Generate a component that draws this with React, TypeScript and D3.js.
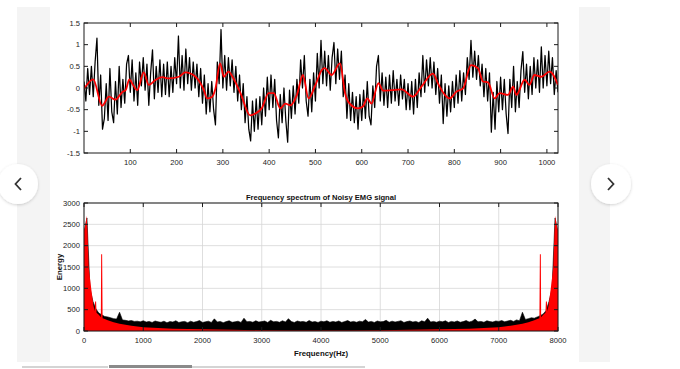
import * as d3 from "d3";

// noisy EMG signal, read every 4th sample
const emgIdx = d3.range(0, 1025, 4);
const emgRaw = [
  0.15, -0.3, 0.45, -0.15, 0.5, -0.2, 0.6, 1.15, -0.4, 0.3, -0.95, -0.7, 0.1, -0.75, 0.45, -0.55,
  -0.8, 0.15, -0.6, 0.5, -0.45, 0.2, -0.35, 0.55, 0.75, -0.1, 0.65, -0.3, 0.35, -0.4, 0.6, 0.05,
  0.7, -0.05, 0.55, -0.4, 0.35, 0.88, -0.25, 0.5, -0.1, 0.65, -0.2, 0.55, -0.15, 0.6, -0.2, 0.5,
  -0.1, 0.7, 0.1, 1.2, 0.0, 0.75, -0.05, 0.9, 0.1, 0.7, -0.05, 0.6, 0.0, 0.55, -0.2, 0.45,
  -0.35, 0.3, -0.6, 0.1, -0.55, 0.15, -0.5, -0.85, 0.6, 0.1, 1.35, 0.0, 0.75, -0.05, 0.7, 0.05,
  0.65, -0.1, 0.5, -0.3, 0.3, -0.5, 0.1, -0.8, -0.2, -0.95, -1.22, -0.3, -1.0, -0.25, -0.95, -0.2,
  -0.85, 0.0, -0.65, 0.25, -0.5, 0.3, -0.45, 0.2, -0.75, -1.15, -0.15, -0.8, 0.0, -0.75, -1.25, -0.05,
  -0.7, 0.05, -0.6, 0.2, -0.35, 0.65, 0.0, 0.75, -0.3, -0.65, 0.2, -0.55, 0.35, -0.3, 0.8, 0.0,
  1.1, 0.1, 0.85, 0.05, 0.75, -0.05, 0.7, 1.05, 0.1, 0.9, 0.2, 0.85, -0.2, 0.3, -0.7, 0.1,
  -0.75, -0.1, -0.8, -0.2, -0.95, -0.15, -0.75, -0.05, -0.7, 0.15, -0.65, -0.85, 0.05, -0.45, 0.5, 0.75,
  -0.3, 0.35, -0.4, 0.25, -0.45, 0.3, -0.35, 0.4, -0.3, 0.2, -0.4, 0.3, -0.25, 0.2, -0.5, 0.1,
  -0.5, 0.15, -0.6, 0.2, -0.45, 0.35, -0.2, 0.75, -0.1, 0.65, 0.05, 0.7, 0.0, 0.6, -0.15, 0.45,
  -0.35, 0.3, -0.82, 0.1, -0.65, 0.05, -0.55, 0.15, -0.45, 0.3, -0.35, 0.4, -0.3, 0.35, -0.15, 0.7,
  0.2, 1.1, 0.25, 0.85, 0.2, 0.75, 0.05, 0.55, -0.2, 0.45, -0.3, 0.35, -1.02, -0.1, -0.95, 0.15,
  -0.55, 0.25, -0.5, 0.2, -0.6, -1.05, 0.2, -0.45, 0.5, -0.55, 0.15, -0.45, 0.4, 0.84, -0.1, 0.55,
  -0.25, 0.5, -0.15, 0.7, 0.0, 0.65, -0.1, 0.95, 0.0, 0.75, 0.05, 0.85, 0.1, 0.7, -0.15, 0.4, -0.1,
];

// filtered (red) signal
const smoothIdx = [0, 20, 39, 54, 68, 83, 90, 98, 106, 115, 129, 140, 155, 169, 183, 205, 219, 241, 251, 259, 266, 277, 284, 294, 302, 312, 323, 338, 359, 370, 384, 399, 410, 424, 435, 446, 460, 473, 485, 500, 514, 520, 535, 553, 564, 571, 592, 603, 612, 621, 636, 646, 664, 686, 711, 729, 754, 765, 775, 790, 804, 819, 836, 851, 862, 873, 887, 898, 916, 927, 934, 952, 962, 973, 988, 1006, 1024];
const smoothVal = [-0.02, 0.2, -0.41, -0.2, -0.27, -0.09, -0.05, 0.2, 0.07, -0.05, 0.36, 0.07, 0.19, 0.25, 0.22, 0.26, 0.36, 0.26, 0.12, -0.05, -0.24, -0.2, -0.01, 0.57, 0.26, 0.38, 0.22, -0.12, -0.63, -0.59, -0.47, -0.12, -0.12, -0.47, -0.36, -0.4, -0.16, 0.3, -0.24, 0.07, 0.42, 0.46, 0.3, 0.57, -0.12, -0.32, -0.47, -0.42, -0.24, -0.36, 0.11, -0.06, -0.05, -0.03, -0.2, 0.03, 0.33, 0.1, -0.09, -0.24, -0.09, -0.01, 0.53, 0.46, 0.15, 0.13, -0.24, -0.12, -0.16, 0.03, -0.16, 0.19, 0.07, 0.3, 0.26, 0.38, 0.07];

// spectrum of noisy signal, 50 Hz bins
const specFreq = d3.range(0, 8001, 50);
const specNoisy = [
  2300, 2650, 1000, 700, 520, 420, 380, 340, 330, 310, 290, 280, 440, 260, 250, 235, 245, 225, 230, 215, 240,
  210, 225, 200, 235, 215, 205, 230, 195, 220, 210, 240, 200, 215, 225, 195, 230, 205, 220, 245, 200,
  215, 230, 200, 285, 210, 225, 195, 220, 240, 205, 215, 230, 200, 300, 215, 225, 205, 240, 210, 220,
  235, 200, 250, 215, 225, 205, 240, 210, 290, 220, 200, 235, 215, 225, 205, 245, 210, 220, 200, 230,
  215, 240, 205, 225, 210, 235, 200, 220, 245, 210, 225, 205, 230, 215, 270, 210, 225, 200, 235, 215,
  220, 250, 205, 230, 210, 225, 240, 200, 220, 235, 210, 225, 200, 240, 215, 300, 210, 225, 205, 230,
  215, 240, 200, 225, 210, 235, 205, 220, 245, 210, 230, 280, 215, 225, 205, 240, 220, 210, 235, 225,
  245, 215, 235, 250, 225, 260, 240, 440, 270, 290, 310, 300, 330, 360, 400, 480, 700, 1000, 2650, 2300,
];

// spectrum of filtered signal
const specFiltFreq = [0, 25, 45, 60, 80, 100, 130, 160, 180, 188, 204, 212, 250, 284, 290, 306, 314, 350, 400, 450, 500, 550, 600, 700, 800, 900, 1000, 1250, 1500, 2000, 2500, 3000, 3500, 4000, 4500, 5000, 5500, 6000, 6500, 6750, 7000, 7100, 7200, 7300, 7400, 7450, 7500, 7550, 7600, 7650, 7686, 7694, 7710, 7716, 7750, 7788, 7796, 7812, 7820, 7840, 7870, 7900, 7920, 7940, 7955, 7975, 8000];
const specFilt = [2350, 2500, 2700, 2300, 1500, 1250, 900, 600, 460, 690, 690, 430, 380, 320, 1800, 1800, 300, 280, 250, 230, 205, 185, 170, 145, 125, 105, 90, 70, 55, 40, 28, 18, 12, 10, 12, 18, 28, 40, 55, 70, 90, 105, 125, 145, 170, 185, 205, 230, 250, 280, 300, 1800, 1800, 320, 380, 430, 690, 690, 460, 600, 900, 1250, 1500, 2300, 2700, 2500, 2350];

const topYTicks = [1.5, 1, 0.5, 0, -0.5, -1, -1.5];
const topXTicks = [100, 200, 300, 400, 500, 600, 700, 800, 900, 1000];
const botYTicks = [0, 500, 1000, 1500, 2000, 2500, 3000];
const botXTicks = [0, 1000, 2000, 3000, 4000, 5000, 6000, 7000, 8000];

const FONT = "'Liberation Sans', Arial, sans-serif";
const TL = 4; // tick length

function Grid({ x, y, xTicks, yTicks }: any) {
  const [x0, x1] = x.range();
  const [y0, y1] = y.range();
  return (
    <g stroke="#d6d6d6" strokeWidth={0.8}>
      {xTicks.map((t: number) => (
        <line key={"gx" + t} x1={x(t)} x2={x(t)} y1={y0} y2={y1} />
      ))}
      {yTicks.map((t: number) => (
        <line key={"gy" + t} x1={x0} x2={x1} y1={y(t)} y2={y(t)} />
      ))}
    </g>
  );
}

function Frame({ x, y, xTicks, yTicks }: any) {
  const [x0, x1] = x.range();
  const [y0, y1] = y.range(); // y0 bottom, y1 top
  return (
    <g fontFamily={FONT} fontSize={7.6} fill="#222">
      <rect x={x0} y={y1} width={x1 - x0} height={y0 - y1} fill="none" stroke="#1a1a1a" strokeWidth={1} />
      {xTicks.map((t: number) => (
        <g key={"tx" + t}>
          <line x1={x(t)} x2={x(t)} y1={y0} y2={y0 - TL} stroke="#1a1a1a" />
          <line x1={x(t)} x2={x(t)} y1={y1} y2={y1 + TL} stroke="#1a1a1a" />
          <text x={x(t)} y={y0 + 12} textAnchor="middle">{t}</text>
        </g>
      ))}
      {yTicks.map((t: number) => (
        <g key={"ty" + t}>
          <line x1={x0} x2={x0 + TL} y1={y(t)} y2={y(t)} stroke="#1a1a1a" />
          <line x1={x1} x2={x1 - TL} y1={y(t)} y2={y(t)} stroke="#1a1a1a" />
          <text x={x0 - 4} y={y(t) + 2.7} textAnchor="end">{t}</text>
        </g>
      ))}
    </g>
  );
}

export default function App() {
  const xTop = d3.scaleLinear().domain([0, 1024]).range([84, 558]);
  const yTop = d3.scaleLinear().domain([-1.5, 1.5]).range([153, 23]);
  const xBot = d3.scaleLinear().domain([0, 8000]).range([84, 558]);
  const yBot = d3.scaleLinear().domain([0, 3000]).range([331, 203]);

  const rawLine = d3
    .line<number>()
    .x((_, i) => xTop(emgIdx[i]))
    .y((d) => yTop(d));
  const smoothLine = d3
    .line<number>()
    .x((_, i) => xTop(smoothIdx[i]))
    .y((d) => yTop(d))
    .curve(d3.curveMonotoneX);

  const noisyArea = d3
    .area<number>()
    .x((_, i) => xBot(specFreq[i]))
    .y0(yBot(0))
    .y1((d) => yBot(d));
  const filtArea = d3
    .area<number>()
    .x((_, i) => xBot(specFiltFreq[i]))
    .y0(yBot(0))
    .y1((d) => yBot(d));

  return (
    <svg width={680} height={369} style={{ position: "absolute", left: 0, top: 0 }}>
      <defs>
        <filter id="sh" x="-50%" y="-50%" width="200%" height="200%">
          <feDropShadow dx="0" dy="1" stdDeviation="1.5" floodColor="#000" floodOpacity="0.18" />
        </filter>
        <clipPath id="cpTop">
          <rect x={84} y={23} width={474} height={130} />
        </clipPath>
        <clipPath id="cpBot">
          <rect x={84} y={203} width={474} height={128} />
        </clipPath>
      </defs>
      <rect width={680} height={369} fill="#fff" />
      <rect x={17} y={7} width={593} height={355} fill="#f4f4f4" />
      <rect x={50} y={7} width={529} height={355} fill="#fff" />

      {/* top: noisy EMG signal + filtered */}
      <g clipPath="url(#cpTop)">
        <path d={rawLine(emgRaw) ?? ""} fill="none" stroke="#000" strokeWidth={1.25} strokeLinejoin="round" />
        <path d={smoothLine(smoothVal) ?? ""} fill="none" stroke="#f00" strokeWidth={1.8} />
      </g>
      <Frame x={xTop} y={yTop} xTicks={topXTicks} yTicks={topYTicks} />

      {/* bottom: spectrum */}
      <Grid x={xBot} y={yBot} xTicks={botXTicks} yTicks={botYTicks} />
      <g clipPath="url(#cpBot)">
        <path d={noisyArea(specNoisy) ?? ""} fill="#000" stroke="#000" strokeWidth={0.6} />
        <path d={filtArea(specFilt) ?? ""} fill="#f00" />
      </g>
      <Frame x={xBot} y={yBot} xTicks={botXTicks} yTicks={botYTicks} />
      <text x={321} y={200} textAnchor="middle" fontFamily={FONT} fontSize={7.6} fontWeight="bold" fill="#111">
        Frequency spectrum of Noisy EMG signal
      </text>
      <text x={321} y={356} textAnchor="middle" fontFamily={FONT} fontSize={7.8} fontWeight="bold" fill="#111">
        Frequency(Hz)
      </text>
      <text
        transform="translate(62,267) rotate(-90)"
        textAnchor="middle"
        fontFamily={FONT}
        fontSize={7.8}
        fontWeight="bold"
        fill="#111"
      >
        Energy
      </text>

      {/* carousel arrows */}
      <circle cx={18} cy={184} r={20} fill="#fff" filter="url(#sh)" />
      <polyline points="21,178 15.5,184 21,190" fill="none" stroke="#333" strokeWidth={1.8} />
      <circle cx={611} cy={184} r={20} fill="#fff" filter="url(#sh)" />
      <polyline points="608,178 613.5,184 608,190" fill="none" stroke="#333" strokeWidth={1.8} />

      {/* thumbnail strip */}
      <rect x={22} y={366} width={86} height={2} fill="#d4d4d4" />
      <rect x={109} y={365} width={83} height={3} fill="#8a8a8a" />
      <rect x={192} y={366} width={173} height={2} fill="#d4d4d4" />
    </svg>
  );
}
